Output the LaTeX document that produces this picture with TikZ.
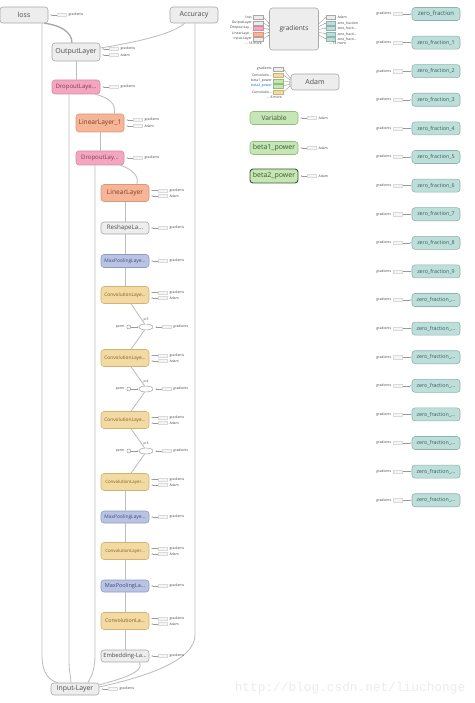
\documentclass[tikz,border=0pt]{standalone}
\usepackage{fontspec}
\setmainfont{Open Sans}
\newfontfamily\wmfont{Liberation Mono}
\usetikzlibrary{calc,shapes.geometric,arrows.meta}
\definecolor{grF}{HTML}{EDEDED}\definecolor{grD}{HTML}{A8A8A8}
\definecolor{pkF}{HTML}{F3A6C0}\definecolor{pkD}{HTML}{D88AA4}\definecolor{pkT}{HTML}{8E3558}
\definecolor{orF}{HTML}{F5B596}\definecolor{orD}{HTML}{D99878}\definecolor{orT}{HTML}{7E3F24}
\definecolor{blF}{HTML}{B9C3E2}\definecolor{blD}{HTML}{8F9CC6}\definecolor{blT}{HTML}{3E4C85}
\definecolor{tnF}{HTML}{F3D9A2}\definecolor{tnD}{HTML}{D2B377}\definecolor{tnT}{HTML}{7D5F26}
\definecolor{gnF}{HTML}{C7E5B6}\definecolor{gnD}{HTML}{8CBF79}\definecolor{gnT}{HTML}{335F27}
\definecolor{tlF}{HTML}{BEDEDA}\definecolor{tlD}{HTML}{8DB4AF}\definecolor{tlT}{HTML}{2F5F5B}
\definecolor{edgeC}{HTML}{BDBDBD}
\newcommand\fs[1]{\fontsize{#1}{#1}\selectfont}
\newcommand\annot[3]{%
  \node[annbox,anchor=west] (#1-#3-b) at ($(#1.east)+(9,#2)$) {};
  \node[annt] (#1-#3-t) at ($(#1.east)+(20,#2)$) {#3};
  \coordinate (#1-#3-c) at ($(#1.east)+(2,#2)$);
  \draw[annline] (#1-#3-b.west) -- (#1-#3-c);}
\begin{document}
\begin{tikzpicture}[x=1pt,y=-1pt,
  box/.style={rounded corners=3pt,line width=0.6pt,minimum width=48pt,inner sep=0pt,text=black!70,font=\fs{7}},
  gr/.style={box,fill=grF,draw=grD},
  pk/.style={box,fill=pkF,draw=pkD,text=pkT},
  orn/.style={box,fill=orF,draw=orD,text=orT},
  bl/.style={box,fill=blF,draw=blD,text=blT},
  tn/.style={box,fill=tnF,draw=tnD,text=tnT},
  gn/.style={box,fill=gnF,draw=gnD,text=gnT},
  tl/.style={box,fill=tlF,draw=tlD,text=tlT},
  edge/.style={draw=edgeC,line width=0.85pt},
  annbox/.style={draw=black!15,fill=black!4,line width=0.3pt,minimum width=9pt,minimum height=3.2pt,inner sep=0pt},
  annt/.style={font=\fs{3.4},text=black!75,inner sep=0pt,anchor=west},
  annline/.style={draw=black!40,line width=0.35pt,-{Latex[length=1.4pt,width=1.4pt]}},
  smallbox/.style={line width=0.3pt,minimum width=10pt,minimum height=3.5pt,inner sep=0pt},
  smlab/.style={font=\fs{3.4},text=black!75,inner sep=0pt},
  spl/.style={ellipse,draw=black!45,fill=white,line width=0.4pt,minimum width=14pt,minimum height=6pt,inner sep=0pt}]
\useasboundingbox (0,0) rectangle (474,703);
% watermark
\node[font=\wmfont\fs{12.8},text=black!8,inner sep=0pt] (wm) at (350,688) {http://blog.csdn.net/liuchonge};

% ---------- main column nodes ----------
\node[gr,minimum height=16pt] (loss) at (24,15) {loss};
\node[gr,minimum height=16pt] (acc) at (194,15) {Accuracy};
\node[gr,minimum height=18pt] (out) at (76,52) {OutputLayer};
\node[pk,minimum height=14pt,font=\fs{6}] (d1) at (76,87) {DropoutLaye…};
\node[orn,minimum height=18pt,font=\fs{6.6}] (lin1) at (100,123) {LinearLayer\_1};
\node[pk,minimum height=14pt,font=\fs{6}] (d2) at (100,158) {DropoutLay…};
\node[orn,minimum height=17pt,font=\fs{6.6}] (lin) at (125,193) {LinearLayer};
\node[gr,minimum height=12pt,font=\fs{6.2}] (resh) at (125,228) {ReshapeLa…};
\node[bl,minimum height=13pt,font=\fs{4.9}] (mp1) at (125,261) {MaxPoolingLaye…};
\node[tn,minimum height=17pt,font=\fs{4.8}] (c1) at (125,295) {ConvolutionLaye…};
\node[spl] (s5) at (146,327) {};
\node[tn,minimum height=17pt,font=\fs{4.8}] (c2) at (125,358) {ConvolutionLaye…};
\node[spl] (s4) at (146,389) {};
\node[tn,minimum height=17pt,font=\fs{4.8}] (c3) at (125,420) {ConvolutionLaye…};
\node[spl] (s3) at (146,451) {};
\node[tn,minimum height=17pt,font=\fs{4.4}] (c4) at (125,482) {ConvolutionLayer…};
\node[bl,minimum height=12pt,font=\fs{4.9}] (mp2) at (125,517) {MaxPoolingLaye…};
\node[tn,minimum height=17pt,font=\fs{4.4}] (c5) at (125,551) {ConvolutionLayer…};
\node[bl,minimum height=12pt,font=\fs{5.5}] (mp3) at (125,586) {MaxPoolingLa…};
\node[tn,minimum height=17pt,font=\fs{5.3}] (c6) at (125,621) {ConvolutionLa…};
\node[gr,minimum height=12pt,font=\fs{5.8}] (emb) at (125,656) {Embedding-La…};
\node[gr,minimum height=12pt,font=\fs{6.8}] (inp) at (75,689) {Input-Layer};

% split helpers
\foreach \s/\p in {s5/5,s4/4,s3/3}{
  \node[smlab] (\s-p) at ($(\s.north)+(0,-4)$) {p:\p};
  \node[circle,draw=black!45,fill=white,line width=0.4pt,minimum size=4pt,inner sep=0pt] (\s-c) at ($(\s.west)+(-10,0)$) {};
  \node[smlab,anchor=east] (\s-perm) at ($(\s-c.west)+(-2,0)$) {perm};
  \draw[annline] (\s-c) -- (\s.west);
}

% ---------- edges ----------
\coordinate (xa) at (42,655);
\coordinate (xb) at (69,660);
\coordinate (xc) at (95,655);
\coordinate (xd) at (195,635);
\draw[edge] (loss.south -| xa) -- (xa) .. controls (42,672) and (48,680) .. ($(inp.north west)+(7,0)$);
\draw[edge] (d1.south -| xb) -- (xb) .. controls (69,672) and (71,678) .. ($(inp.north)+(-4,0)$);
\draw[edge] (d2.south -| xc) -- (xc) .. controls (95,672) and (90,678) .. ($(inp.north)+(13,0)$);
\draw[edge] (acc.south -| xd) -- (xd) .. controls (195,662) and (140,678) .. ($(inp.east)+(0,-2)$);
\draw[edge] ($(emb.south east)+(-10,0)$) .. controls (146,672) and (118,680) .. ($(inp.north east)+(0,2)$);
\draw[draw=black!35,line width=1.3pt] ($(loss.south east)+(-4,0)$) .. controls (60,25) and (72,32) .. ($(out.north)+(-4,0)$);
\draw[edge] ($(acc.south west)+(15,0)$) .. controls (170,36) and (125,44) .. ($(out.east)+(0,-4)$);
\draw[edge] (out) -- (d1);
\draw[edge] ($(d1.south east)+(-5,0)$) .. controls (110,98) and (116,104) .. ($(lin1.north east)+(-10,0)$);
\draw[edge] (lin1) -- (d2);
\draw[edge] ($(d2.south east)+(-4,0)$) .. controls (135,170) and (139,178) .. ($(lin.north)+(12,0)$);
\draw[edge] (lin) -- (resh);
\draw[edge] (resh) -- (mp1);
\draw[edge] (mp1) -- (c1);
\draw[edge] ($(c1.south)+(6,0)$) -- (s5.115);
\draw[edge] (s5.245) -- ($(c2.north)+(6,0)$);
\draw[edge] ($(c2.south)+(6,0)$) -- (s4.115);
\draw[edge] (s4.245) -- ($(c3.north)+(6,0)$);
\draw[edge] ($(c3.south)+(6,0)$) -- (s3.115);
\draw[edge] (s3.245) -- ($(c4.north)+(6,0)$);
\draw[edge] (c4) -- (mp2);
\draw[edge] (mp2) -- (c5);
\draw[edge] (c5) -- (mp3);
\draw[edge] (mp3) -- (c6);
\draw[edge] (c6) -- (emb);

% ---------- annotations ----------
\annot{loss}{0}{gradients}
\annot{out}{-3}{gradients}\annot{out}{3}{Adam}
\annot{d1}{0}{gradients}
\annot{lin1}{-3}{gradients}\annot{lin1}{3}{Adam}
\annot{d2}{0}{gradients}
\annot{lin}{-2.5}{gradients}\annot{lin}{3}{Adam}
\annot{resh}{0}{gradients}
\annot{mp1}{0}{gradients}
\foreach \n in {c1,c2,c3,c4,c5,c6}{\annot{\n}{-2.5}{gradients}\annot{\n}{3}{Adam}}
\foreach \n in {s5,s4,s3}{\annot{\n}{0}{gradients}}
\annot{mp2}{0}{gradients}
\annot{mp3}{0}{gradients}
\annot{emb}{0}{gradients}
\annot{inp}{0}{gradients}

% ---------- gradients box ----------
\node[gr,minimum width=49pt,minimum height=42pt,font=\fs{6.6}] (grad) at (294,29) {gradients};
\foreach \l/\y/\f/\d [count=\i] in {loss/17/grF/grD, OutputLayer/23/grF/grD, DropoutLay…/28/pkF/pkD, LinearLaye…/34/orF/orD, Input-Layer/39/grF/grD}{
  \node[smallbox,fill=\f,draw=\d,anchor=west] (gi\i) at (253,\y) {};
  \node[smlab,anchor=east] (gil\i) at ($(gi\i.west)+(-1,0)$) {\l};
  \draw[annline] (gi\i.east) -- ($(grad.west)+(0,-8+\i*2.8)$);
}
\node[smlab,anchor=east] (gimore) at (262,43) {… 18 more};
\foreach \l/\y/\f/\d [count=\i] in {Adam/17/grF/grD, zero\_fraction/23/tlF/tlD, zero\_fracti…/28/tlF/tlD, zero\_fracti…/34/tlF/tlD, zero\_fracti…/39/tlF/tlD}{
  \node[smallbox,fill=\f,draw=\d,anchor=west,minimum width=9pt] (go\i) at (326,\y) {};
  \node[smlab,anchor=west] (gol\i) at ($(go\i.east)+(2,0)$) {\l};
  \draw[annline] ($(grad.east)+(0,-8+\i*2.8)$) -- (go\i.west);
}
\node[smlab,anchor=west] (gomore) at (329,43) {… 14 more};

% ---------- Adam ----------
\node[gr,minimum height=16pt] (adam) at (315,82) {Adam};
\foreach \l/\y/\f/\d/\t [count=\i] in {gradients/69/grF/grD/black!75, Convolutio…/75/tnF/tnD/black!75, beta1\_power/81/gnF/gnD/black!75, beta2\_power/86/gnF/gnD/blue!60!cyan, Convolutio…/92/tnF/tnD/black!75}{
  \node[smallbox,fill=\f,draw=\d,anchor=west] (ai\i) at (273,\y) {};
  \node[smlab,anchor=east,text=\t] (ail\i) at ($(ai\i.west)+(-1,0)$) {\l};
  \draw[annline] (ai\i.east) -- ($(adam.west)+(0,-5+\i*1.7)$);
}
\node[smlab,anchor=east] (aimore) at (282,97) {… 8 more};

% ---------- variables ----------
\node[gn,minimum height=13pt,font=\fs{6.6}] (var) at (274,118) {Variable};
\node[gn,minimum height=13pt,font=\fs{7}] (b1) at (274,148) {beta1\_power};
\node[gn,minimum height=14pt,font=\fs{7},draw=gnT,line width=0.9pt] (b2) at (274,176) {beta2\_power};
\annot{var}{0}{Adam}
\annot{b1}{0}{Adam}
\annot{b2}{0}{Adam}

% ---------- zero fractions ----------
\foreach \i in {0,...,17}{
  \pgfmathsetmacro\yy{14+\i*28.6}
  \ifnum\i=0
    \node[tl,minimum height=13pt,font=\fs{6}] (zf\i) at (436,\yy) {zero\_fraction};
  \else\ifnum\i<10
    \node[tl,minimum height=13pt,font=\fs{5.3}] (zf\i) at (436,\yy) {zero\_fraction\_\i};
  \else
    \node[tl,minimum height=13pt,font=\fs{5.3}] (zf\i) at (436,\yy) {zero\_fraction\_…};
  \fi\fi
  \node[annbox,anchor=east] (zfb\i) at ($(zf\i.west)+(-9,0)$) {};
  \node[annt,anchor=east] (zft\i) at ($(zfb\i.west)+(-2,0)$) {gradients};
  \draw[annline] (zfb\i.east) -- (zf\i.west);
}
\end{tikzpicture}
\end{document}
